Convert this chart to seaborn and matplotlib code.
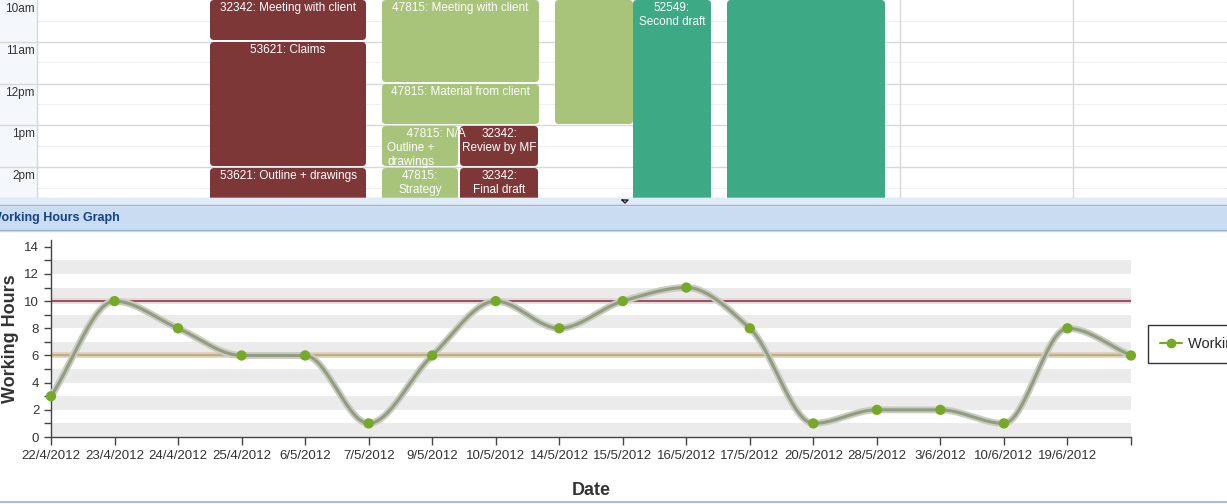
import matplotlib
matplotlib.use("Agg")
import matplotlib.pyplot as plt
import seaborn as sns
import numpy as np
import pandas as pd
from matplotlib.patches import FancyBboxPatch, Rectangle
from matplotlib.lines import Line2D

# ---- chart data ----
dates = ['22/4/2012', '23/4/2012', '24/4/2012', '25/4/2012', '6/5/2012', '7/5/2012',
         '9/5/2012', '10/5/2012', '14/5/2012', '15/5/2012', '16/5/2012', '17/5/2012',
         '20/5/2012', '28/5/2012', '3/6/2012', '10/6/2012', '19/6/2012', '']
hours = [3, 10, 8, 6, 6, 1, 6, 10, 8, 10, 11, 8, 1, 2, 2, 1, 8, 6]
upper_limit = 10
lower_limit = 6

# ---- calendar strip above the graph (pixel coords) ----
hour_labels = ['10am', '11am', '12pm', '1pm', '2pm']
ev_x0 = [210, 210, 210, 382, 382, 382, 460, 382, 460, 555, 633, 727]
ev_x1 = [366, 366, 366, 539, 539, 458, 538, 458, 538, 633, 711, 885]
ev_y0 = [0, 42, 168, 0, 84, 126, 126, 168, 168, 0, 0, 0]
ev_y1 = [40, 166, 210, 82, 124, 166, 166, 210, 210, 124, 210, 210]
ev_kind = ['m', 'm', 'm', 'g', 'g', 'g', 'm', 'g', 'm', 'g', 't', 't']
ev_text = ['32342: Meeting with client', '53621: Claims', '53621: Outline + drawings',
           '47815: Meeting with client', '47815: Material from client',
           '      47815: N/A\nOutline +\ndrawings', '32342:\nReview by MF',
           '47815:\nStrategy', '32342:\nFinal draft', '', '52549:\nSecond draft', '']
kind_color = {'m': '#7e3737', 'g': '#a7c47a', 't': '#3da985'}

sns.set_theme(style='white')
plt.rcParams['font.family'] = ['Liberation Sans', 'DejaVu Sans']

W, H = 1227, 504
fig = plt.figure(figsize=(W / 100, H / 100), dpi=100)
bg = fig.add_axes([0, 0, 1, 1])
bg.set_xlim(0, W)
bg.set_ylim(H, 0)
bg.axis('off')

# calendar grid
for i in range(5):
    y = i * 41.8
    if i > 0:
        bg.plot([0, W], [y, y], color='#d8d8d8', lw=1, zorder=1)
    bg.plot([37, W], [y + 20.5, y + 20.5], color='#dddddd', lw=0.6, ls=(0, (1, 1)), zorder=1)
    bg.text(35, y + 9, hour_labels[i], ha='right', va='center', fontsize=8.5, color='#333333')
bg.add_patch(Rectangle((0, 0), 37, 198, color='#f4f7fb', zorder=0))
for x in [37, 900, 1073]:
    bg.plot([x, x], [0, 198], color='#d8d8d8', lw=1, zorder=1)

for x0, x1, y0, y1, k, t in zip(ev_x0, ev_x1, ev_y0, ev_y1, ev_kind, ev_text):
    bg.add_patch(FancyBboxPatch((x0, y0), x1 - x0, y1 - y0,
                                boxstyle='round,pad=0,rounding_size=4',
                                color=kind_color[k], lw=0, zorder=2))
    if t:
        multi = '\n' in t and 'N/A' in t
        bg.text(x0 + 5 if multi else (x0 + x1) / 2, y0 + 2, t,
                ha='left' if multi else 'center', va='top', fontsize=8.5, color='white',
                linespacing=1.2, zorder=3)

# header bar
bg.add_patch(Rectangle((0, 198), W, 33, color='#c9dcf1', zorder=4))
bg.add_patch(Rectangle((0, 198), W, 8, color='#e0ebf8', zorder=4))
bg.plot([0, W], [205, 205], color='#9cb6d6', lw=1, zorder=5)
bg.plot([0, W], [230, 230], color='#9cb6d6', lw=1, zorder=5)
bg.plot([0, W], [502, 502], color='#a8c0dc', lw=1.5, zorder=5)
bg.plot([622, 628, 625, 622], [200, 200, 203, 200], color='#222222', lw=1, zorder=6)
bg.text(-10, 218, 'Working Hours Graph', fontsize=9, fontweight='bold', color='#15428b',
        va='center', ha='left', zorder=6)

# ---- working hours graph ----
ax = fig.add_axes([51 / W, (H - 437) / H, 1080 / W, 197 / H])
x = np.arange(len(hours))
ax.set_xlim(0, len(hours) - 1)
ax.set_ylim(0, 14.5)
for b in range(0, 14, 2):
    ax.axhspan(b, b + 1, color='#ebebeb', lw=0, zorder=0)

# smooth monotone curve through the points (PCHIP-style rendering)
p = np.array(hours, dtype=float)
d = np.diff(p)
m = np.zeros_like(p)
m[0], m[-1] = d[0], d[-1]
for i in range(1, len(p) - 1):
    if d[i - 1] * d[i] > 0:
        m[i] = 2 / (1 / d[i - 1] + 1 / d[i])
sx, sy = [], []
for i in range(len(p) - 1):
    t = np.linspace(0, 1, 30)
    h00 = 2 * t ** 3 - 3 * t ** 2 + 1
    h10 = t ** 3 - 2 * t ** 2 + t
    h01 = -2 * t ** 3 + 3 * t ** 2
    h11 = t ** 3 - t ** 2
    sx.extend(i + t)
    sy.extend(h00 * p[i] + h10 * m[i] + h01 * p[i + 1] + h11 * m[i + 1])
curve = pd.DataFrame({'x': sx, 'y': sy})
pts = pd.DataFrame({'x': x, 'y': hours})

ax.axhline(upper_limit, color='#e8d5d8', lw=4, zorder=1)
ax.axhline(upper_limit, color='#8a4a5a', lw=1.3, zorder=2)
ax.axhline(lower_limit, color='#ddd0b8', lw=4, zorder=1)
ax.axhline(lower_limit, color='#c2ad85', lw=1.5, zorder=2)
sns.lineplot(data=curve, x='x', y='y', ax=ax, color='#c9cdc0', lw=5, zorder=3, sort=False)
sns.lineplot(data=curve, x='x', y='y', ax=ax, color='#929c80', lw=2.2, zorder=4, sort=False)
sns.scatterplot(data=pts, x='x', y='y', ax=ax, color='#76a928', s=55, edgecolor='none',
                zorder=5, clip_on=False)

ax.set_xticks(x)
ax.set_xticklabels(dates, fontsize=9.5, color='#333333')
ax.set_yticks(range(0, 15, 2))
ax.set_yticks(range(1, 15, 2), minor=True)
ax.tick_params(axis='y', which='both', left=True, length=5, width=1, color='#444444',
               labelsize=9.5, labelcolor='#333333')
ax.tick_params(axis='x', bottom=True, length=6, width=1, color='#444444')
for s in ['top', 'right']:
    ax.spines[s].set_visible(False)
for s in ['left', 'bottom']:
    ax.spines[s].set_color('#444444')
    ax.spines[s].set_linewidth(1)
ax.spines['left'].set_bounds(0, 14.5)
ax.set_xlabel('Date', fontsize=13, fontweight='bold', color='#333333', labelpad=14)
ax.set_ylabel('Working Hours', fontsize=13, fontweight='bold', color='#333333', labelpad=4)

handle = Line2D([0], [0], color='#76a928', lw=1.5, marker='o', markersize=6)
fig.legend([handle], ['Working Hours'], loc='upper left', bbox_to_anchor=(1141 / W, 1 - 318 / H),
           frameon=True, fancybox=False, edgecolor='black', fontsize=10.5, handlelength=1.5,
           borderpad=0.8, handletextpad=0.4)

fig.savefig('out.png', dpi=100)
